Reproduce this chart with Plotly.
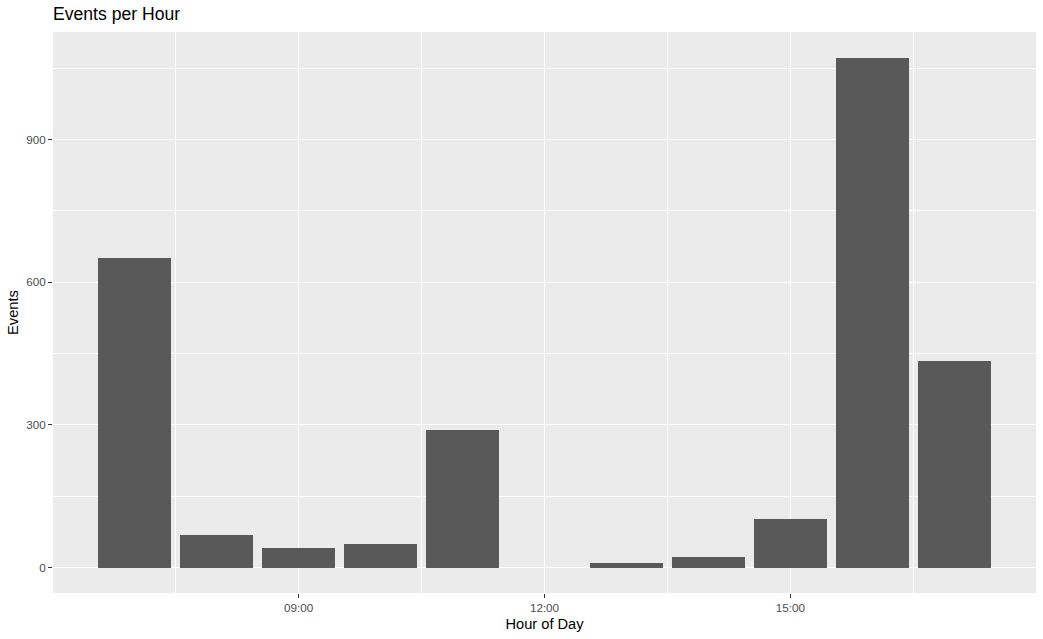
import plotly.graph_objects as go

hours = [7, 8, 9, 10, 11, 12, 13, 14, 15, 16, 17]
events = [651, 69, 40, 50, 290, 0, 10, 23, 103, 1072, 435]
x_tick_vals = [9, 12, 15]
x_tick_text = ["09:00", "12:00", "15:00"]
y_tick_vals = [0, 300, 600, 900]

fig = go.Figure()
fig.add_trace(go.Bar(
    x=hours, y=events, width=0.9,
    marker=dict(color="#595959", line=dict(width=0)),
    hoverinfo="x+y",
))

font = "Liberation Sans, Arial, Helvetica, sans-serif"
fig.update_layout(
    width=1043, height=639,
    margin=dict(l=53, r=7, t=32, b=46, autoexpand=False),
    paper_bgcolor="white",
    plot_bgcolor="#EBEBEB",
    font=dict(family=font, color="black"),
    showlegend=False,
    bargap=0,
    title=dict(text="Events per Hour", x=53/1043, xanchor="left", xref="container",
               y=1 - 14/639, yanchor="middle", yref="container",
               font=dict(size=17.6, color="black")),
    xaxis=dict(
        range=[6.005, 17.995], automargin=True,
        tickmode="array", tickvals=x_tick_vals, ticktext=x_tick_text,
        showgrid=True, gridcolor="white", gridwidth=1.2,
        minor=dict(tick0=7.5, dtick=3, showgrid=True, gridcolor="white", gridwidth=0.6, ticklen=0),
        ticks="outside", ticklen=4, tickcolor="#333333", tickwidth=1,
        tickfont=dict(size=11.7, color="#4D4D4D"),
        zeroline=False, showline=False,
        title=dict(text="Hour of Day", font=dict(size=14.67, color="black"), standoff=5),
    ),
    yaxis=dict(
        range=[-53.6, 1126], automargin=True,
        tickmode="array", tickvals=y_tick_vals,
        showgrid=True, gridcolor="white", gridwidth=1.2,
        minor=dict(tick0=150, dtick=300, showgrid=True, gridcolor="white", gridwidth=0.6, ticklen=0),
        ticks="outside", ticklen=4, tickcolor="#333333", tickwidth=1,
        tickfont=dict(size=11.7, color="#4D4D4D"),
        zeroline=False, showline=False,
        title=dict(text="Events", font=dict(size=14.67, color="black"), standoff=4),
    ),
)

fig.write_html("out.html", config={"displayModeBar": False},
               post_script="document.body.style.margin='0';document.body.style.overflow='hidden';")
